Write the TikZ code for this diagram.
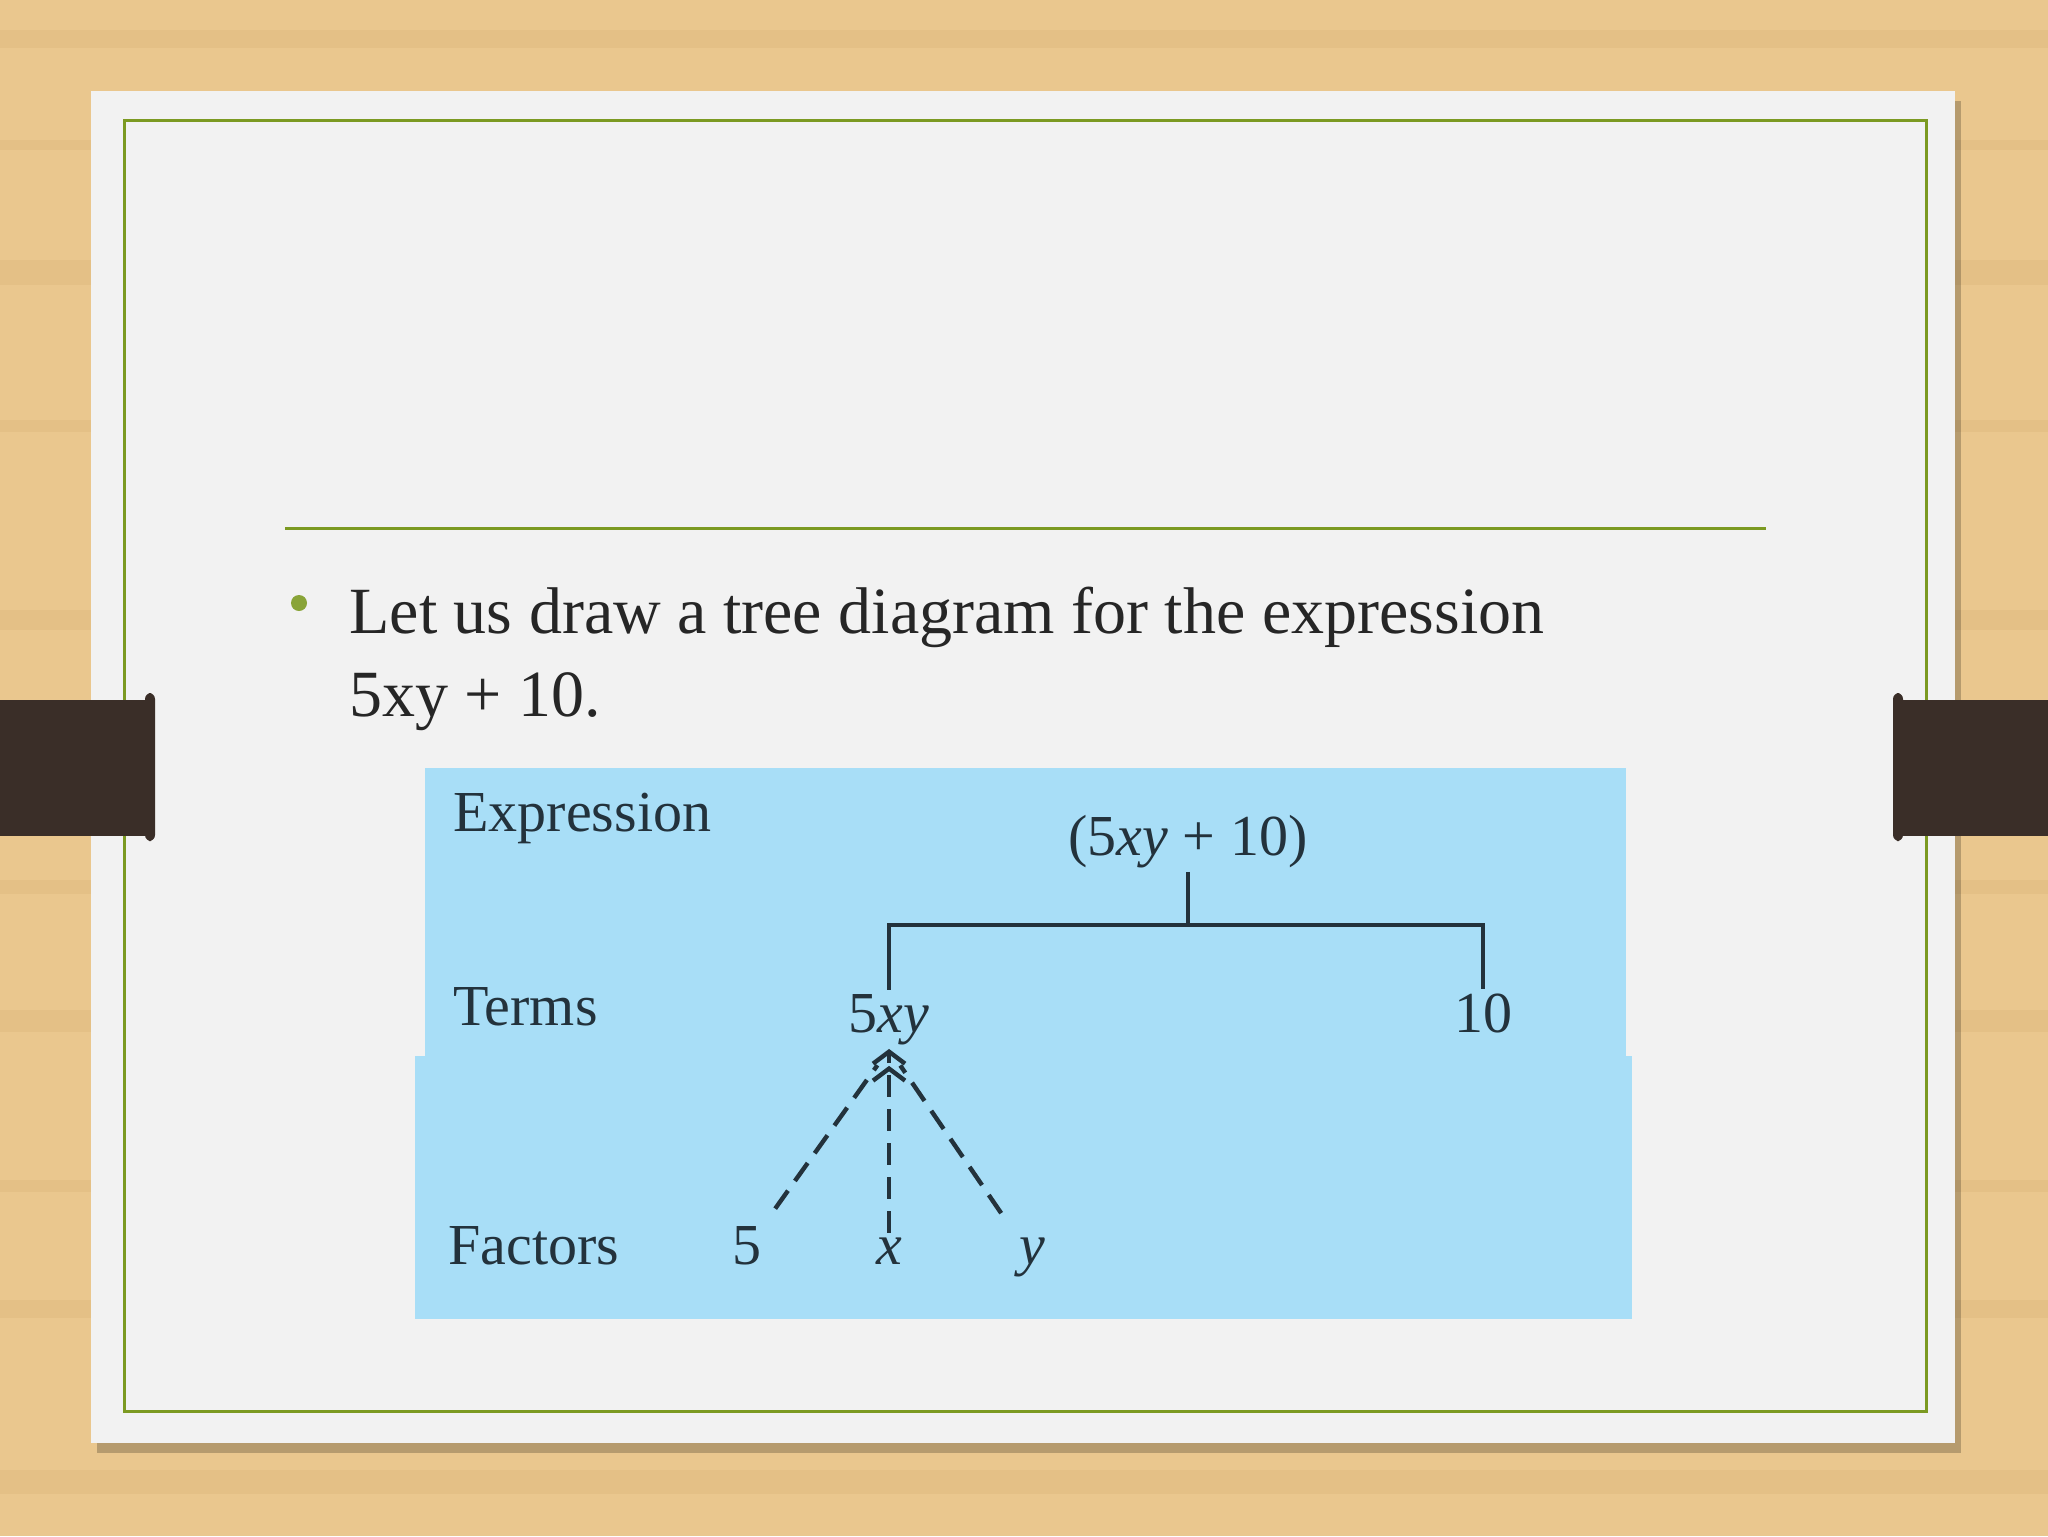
\documentclass[tikz,border=0pt]{standalone}
\usepackage{fontspec}
\setmainfont{Liberation Serif}
\usetikzlibrary{arrows.meta,positioning}
\definecolor{wood}{RGB}{234,199,142}
\definecolor{grain}{RGB}{214,172,112}
\definecolor{slidebg}{RGB}{242,242,242}
\definecolor{rim}{RGB}{124,154,34}
\definecolor{binder}{RGB}{58,46,40}
\definecolor{sky}{RGB}{168,222,247}
\definecolor{ink}{RGB}{35,50,60}
\definecolor{body}{RGB}{38,38,38}
\tikzstyle{level}=[anchor=base west,font=\fontsize{29}{29}\selectfont,text=ink,inner sep=0pt]
\tikzstyle{term}=[anchor=base,font=\fontsize{29}{29}\selectfont,text=ink,inner sep=2pt]
\tikzstyle{branch}=[line width=2.2pt,draw=ink]
\tikzstyle{factor}=[line width=2.2pt,draw=ink,dash pattern=on 11pt off 6pt]
\tikzstyle{bodytext}=[anchor=base west,font=\fontsize{33}{41}\selectfont,text=body,inner sep=0pt]

\begin{document}
\begin{tikzpicture}[x=0.5pt,y=-0.5pt]
          \useasboundingbox (0,0) rectangle (2048,1536);
          % table
          \fill[wood] (0,0) rectangle (2048,1536);
          \foreach \yy/\hh in {30/18,140/10,260/25,420/12,610/20,880/14,1010/22,1180/12,1300/18,1470/24}
            \fill[grain,opacity=0.25] (0,\yy) rectangle (2048,\yy+\hh);
          % slide
          \fill[black,opacity=0.22] (97,101) rectangle (1961,1453);
          \fill[slidebg] (91,91) rectangle (1955,1443);
          \draw[rim,line width=1.5pt] (124,120) rectangle (1926,1411);
          \draw[rim,line width=1.5pt] (285,528) -- (1766,528);
          % binder clips
          \fill[binder] (0,700) rectangle (153,836);
          \fill[binder,rounded corners=3pt] (145,693) rectangle (155,841);
          \fill[binder] (1896,700) rectangle (2048,836);
          \fill[binder,rounded corners=3pt] (1893,693) rectangle (1903,841);
          % bullet text
          \fill[rim!90] (299,603) circle (8);
          \node[bodytext] (line1) at (349,633) {Let us draw a tree diagram for the expression};
          \node[bodytext] (line2) at (349,716) {5xy + 10.};
          % figure
          \fill[sky] (425,768) rectangle (1626,1060);
          \fill[sky] (415,1056) rectangle (1632,1319);

          \node[level] (expr) at (453,831) {Expression};
          \node[level] (terms) at (453,1025) {Terms};
          \node[level] (factors) at (448,1264) {Factors};

          \node[term] (root) at (1188,855) {(5\textit{xy} + 10)};
          \node[term] (t1) at (889,1032) {5\textit{xy}};
          \node[term] (t2) at (1483,1032) {10};
          \node[term] (f1) at (747,1264) {5};
          \node[term] (f2) at (889,1264) {\textit{x}};
          \node[term] (f3) at (1032,1264) {\textit{y}};

          \coordinate (bar) at (1188,925);
          \draw[branch] (root.south) -- (bar);
          \draw[branch] (t1.north) |- (bar) -| (t2.north);

          \draw[factor,-{Straight Barb[length=6pt,width=16pt] Straight Barb[length=6pt,width=16pt]}] (f2.north) -- (t1.south);
          \draw[factor,shorten <=8pt,shorten >=10pt] (f1.north east) -- (t1.south);
          \draw[factor,shorten <=12pt,shorten >=10pt] (f3.north west) -- (t1.south);
        \end{tikzpicture}
\end{document}
